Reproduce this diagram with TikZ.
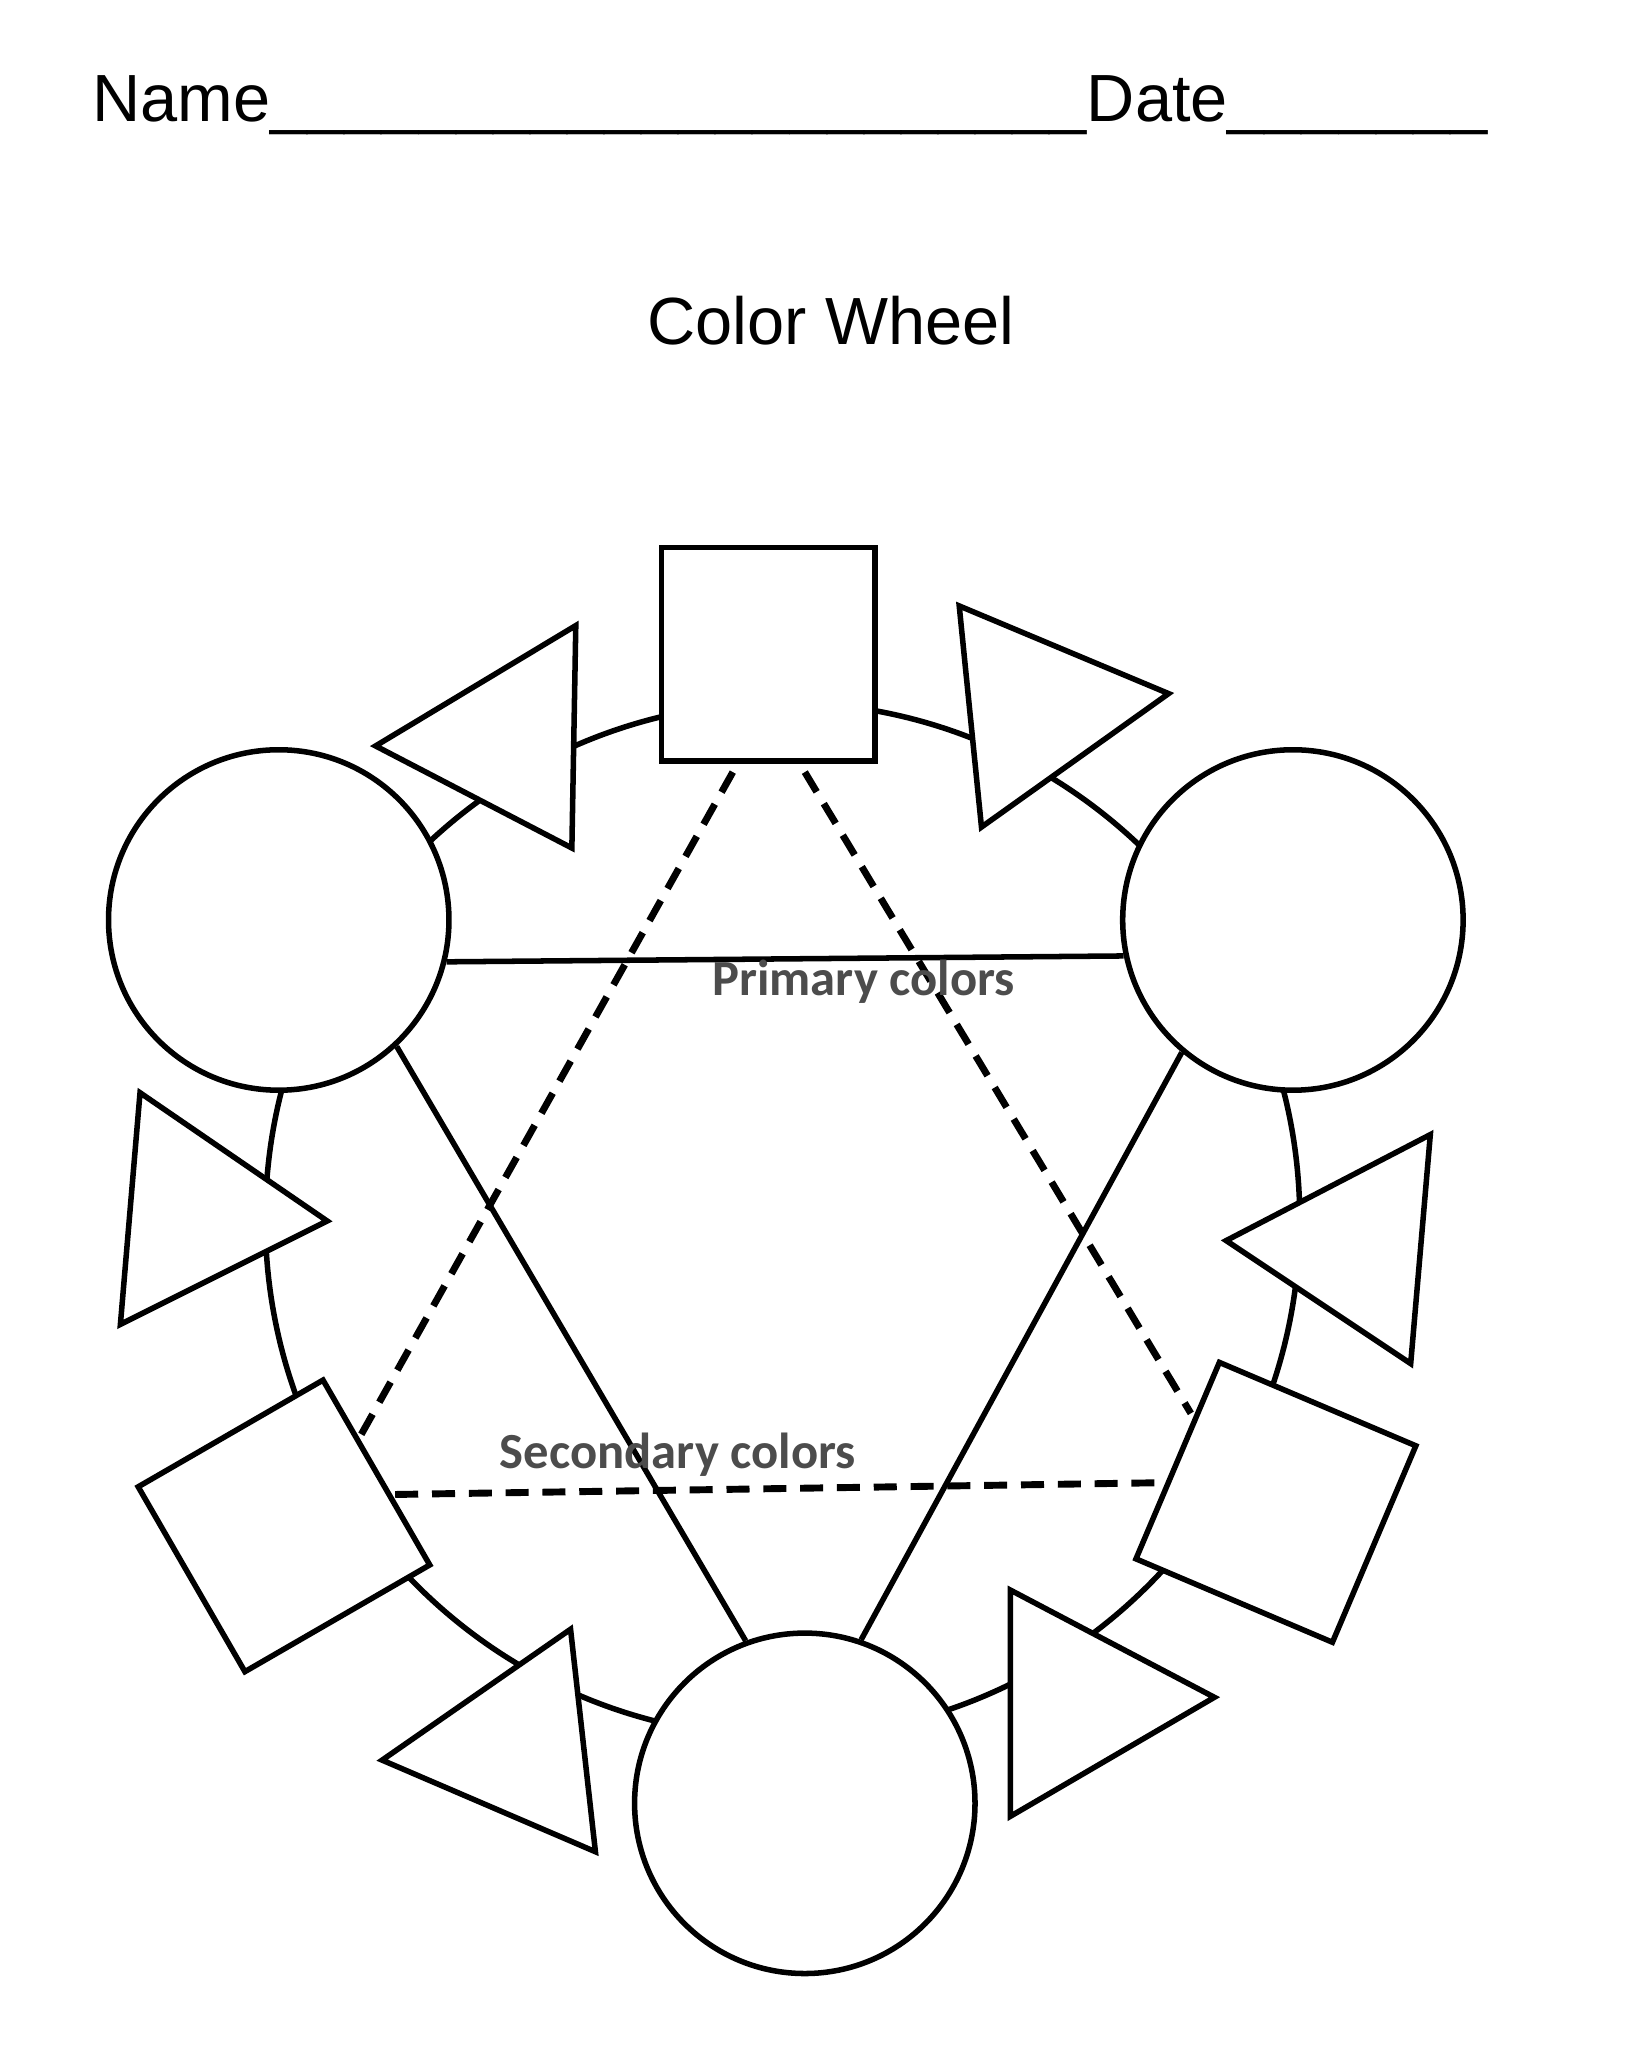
\documentclass[tikz,border=0pt]{standalone}
\usepackage{fontspec}
\setmainfont{Liberation Sans}
\newfontfamily\labelfont{Carlito}
\begin{document}
\begin{tikzpicture}[x=0.01cm, y=-0.01cm, line width=1.2pt,
  prim/.style={draw, circle, fill=white, minimum size=2.6cm, inner sep=0pt},
  sec/.style={draw, rectangle, fill=white, minimum size=1.63cm, inner sep=0pt},
  tri/.style={draw, fill=white, line join=miter},
  dashline/.style={line width=1.5pt, dash pattern=on 5pt off 3pt},
  lbl/.style={font=\labelfont\bfseries\fontsize{11}{13}\selectfont, text=black!70}]
\useasboundingbox (0,0) rectangle (1252,1565);
% Header
\node[anchor=west, font=\fontsize{14.5}{17}\selectfont] (head) at (57,80) {Name\_\_\_\_\_\_\_\_\_\_\_\_\_\_\_\_\_\_\_\_\_\_Date\_\_\_\_\_\_\_};
\node[font=\fontsize{14.5}{17}\selectfont] (title) at (635,245) {Color Wheel};
% Ring
\draw (598,932) circle (3.95cm);
% Lines between the colours
\coordinate (ts1) at (560,590);
\coordinate (ts2) at (615,590);
\coordinate (ls1) at (275,1098);
\coordinate (ls2) at (302,1142);
\coordinate (rs1) at (910,1080);
\coordinate (rs2) at (888,1133);
% Triangles
\draw[tri] (440,478) -- (437,648) -- (287,570) -- cycle;
\draw[tri] (733,463) -- (750,632) -- (893,530) -- cycle;
\draw[tri] (1093,867) -- (1078,1042) -- (937,948) -- cycle;
\draw[tri] (107,835) -- (92,1012) -- (250,933) -- cycle;
\draw[tri] (436,1245) -- (455,1415) -- (292,1345) -- cycle;
\draw[tri] (772,1215) -- (772,1388) -- (928,1297) -- cycle;
% Primary colours
\node[prim] (pl) at (213,703) {};
\node[prim] (pr) at (988,703) {};
\node[prim] (pb) at (615,1378) {};
% Secondary colours
\node[sec] (st) at (587,500) {};
\node[sec, rotate=30] (sl) at (217,1166) {};
\node[sec, rotate=-23] (sr) at (975,1148) {};
\draw (pl.-14) -- (pr.192);
\draw (pl.-47) -- (pb.110);
\draw (pr.230) -- (pb.71);
\draw[dashline] (ts1) -- (ls1);
\draw[dashline] (ts2) -- (rs1);
\draw[dashline] (ls2) -- (rs2);
\node[lbl] (primlbl) at (660,750) {Primary colors};
\node[lbl] (seclbl) at (518,1112) {Secondary colors};
\end{tikzpicture}
\end{document}
